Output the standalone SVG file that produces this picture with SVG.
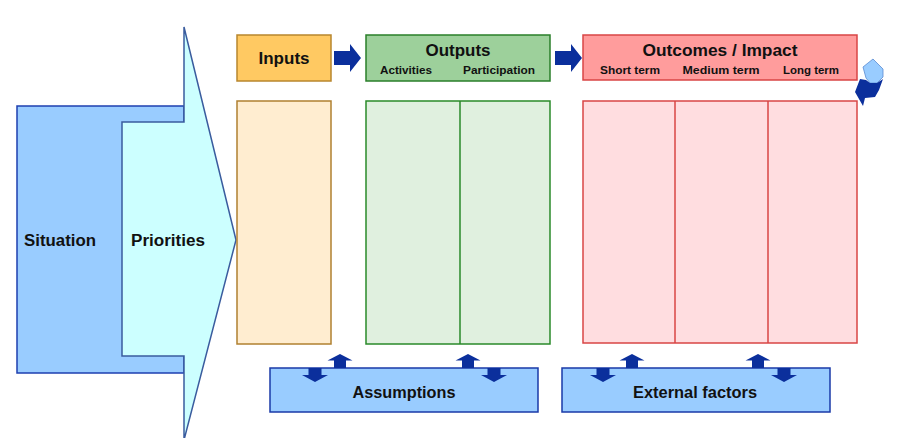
<svg xmlns="http://www.w3.org/2000/svg" width="900" height="438" viewBox="0 0 900 438">
<style>
text{font-family:"Liberation Sans",Arial,sans-serif;font-weight:bold;fill:#111;}
.t{font-size:16px;}
.s{font-size:10.5px;}
.arr{fill:#0B2F9C;}
</style>
<defs>
<path id="upA" d="M-12.5 6.5 L0 0 L12.5 6.5 L6 6.5 L6 14 L-6 14 L-6 6.5 Z"/>
<path id="dnA" d="M-6.5 0 L6.5 0 L6.5 7 L13 7 L0 14 L-13 7 L-6.5 7 Z"/>
<path id="rA" d="M0 -7 L16 -7 L16 -14 L27 0 L16 14 L16 7 L0 7 Z"/>
</defs>
<rect width="900" height="438" fill="#fff"/>
<g id="situation">
<rect x="17" y="106" width="167" height="267" fill="#99CCFF" stroke="#1E3FB0" stroke-width="1.5"/>
<text class="t" x="24" y="246" textLength="72" lengthAdjust="spacingAndGlyphs">Situation</text>
</g>
<g id="priorities">
<polygon points="122,122 184,122 184,27 236,240 184,440 184,356 122,356" fill="#CCFFFF" stroke="#3A5C9E" stroke-width="1.5"/>
<text class="t" x="131" y="246" textLength="74" lengthAdjust="spacingAndGlyphs">Priorities</text>
</g>
<g id="inputs">
<rect x="237" y="35" width="94" height="46" fill="#FFC962" stroke="#B8862E" stroke-width="1.5"/>
<text class="t" x="284" y="64" text-anchor="middle" textLength="51" lengthAdjust="spacingAndGlyphs">Inputs</text>
<rect x="237" y="101" width="94" height="243" fill="#FFEDD0" stroke="#B08030" stroke-width="1.5"/>
</g>
<g id="outputs">
<rect x="366" y="35" width="184" height="46" fill="#9DD09B" stroke="#2A7F2A" stroke-width="1.5"/>
<text class="t" x="458" y="56" text-anchor="middle" textLength="65" lengthAdjust="spacingAndGlyphs">Outputs</text>
<text class="s" x="406" y="74" text-anchor="middle" textLength="52" lengthAdjust="spacingAndGlyphs">Activities</text>
<text class="s" x="499" y="74" text-anchor="middle" textLength="72" lengthAdjust="spacingAndGlyphs">Participation</text>
<rect x="366" y="101" width="184" height="243" fill="#E0F0DF" stroke="#2A8A2A" stroke-width="1.5"/>
<line x1="460" y1="101" x2="460" y2="344" stroke="#2A8A2A" stroke-width="1.5"/>
</g>
<g id="outcomes">
<rect x="583" y="35" width="274" height="45" fill="#FF9C9C" stroke="#D94545" stroke-width="1.5"/>
<text class="t" x="720" y="56" text-anchor="middle" textLength="155" lengthAdjust="spacingAndGlyphs">Outcomes / Impact</text>
<text class="s" x="630" y="74" text-anchor="middle" textLength="60" lengthAdjust="spacingAndGlyphs">Short term</text>
<text class="s" x="721" y="74" text-anchor="middle" textLength="77" lengthAdjust="spacingAndGlyphs">Medium term</text>
<text class="s" x="811" y="74" text-anchor="middle" textLength="56" lengthAdjust="spacingAndGlyphs">Long term</text>
<rect x="583" y="101" width="274" height="242" fill="#FFDDE0" stroke="#D94545" stroke-width="1.5"/>
<line x1="675" y1="101" x2="675" y2="343" stroke="#D94545" stroke-width="1.5"/>
<line x1="768" y1="101" x2="768" y2="343" stroke="#D94545" stroke-width="1.5"/>
</g>
<g id="assumptions">
<rect x="270" y="368" width="268" height="44" fill="#99CCFF" stroke="#1A3AA8" stroke-width="1.5"/>
<text class="t" x="404" y="398" text-anchor="middle" textLength="103" lengthAdjust="spacingAndGlyphs">Assumptions</text>
</g>
<g id="external">
<rect x="562" y="368" width="268" height="44" fill="#99CCFF" stroke="#1A3AA8" stroke-width="1.5"/>
<text class="t" x="695" y="398" text-anchor="middle" textLength="124" lengthAdjust="spacingAndGlyphs">External factors</text>
</g>
<g id="connectors" class="arr">
<use href="#rA" x="334" y="58"/>
<use href="#rA" x="555" y="58"/>
<use href="#upA" x="340" y="354"/>
<use href="#dnA" x="315" y="368"/>
<use href="#upA" x="468" y="354"/>
<use href="#dnA" x="494" y="368"/>
<use href="#upA" x="632" y="354"/>
<use href="#dnA" x="603" y="368"/>
<use href="#upA" x="758" y="354"/>
<use href="#dnA" x="784" y="368"/>
<path d="M863 67 L873 59 L883 69 L883 77 L877 83 L870 83 L866 78 Z" fill="#99CCFF" stroke="#5A8AD0" stroke-width="0.8"/>
<path d="M860 79 L855 92 L863 106 L865 98 L875 97 L879 90 L883 79 L877 83 L870 83 L866 80 Z" fill="#0B2F9C"/>
</g>
</svg>
